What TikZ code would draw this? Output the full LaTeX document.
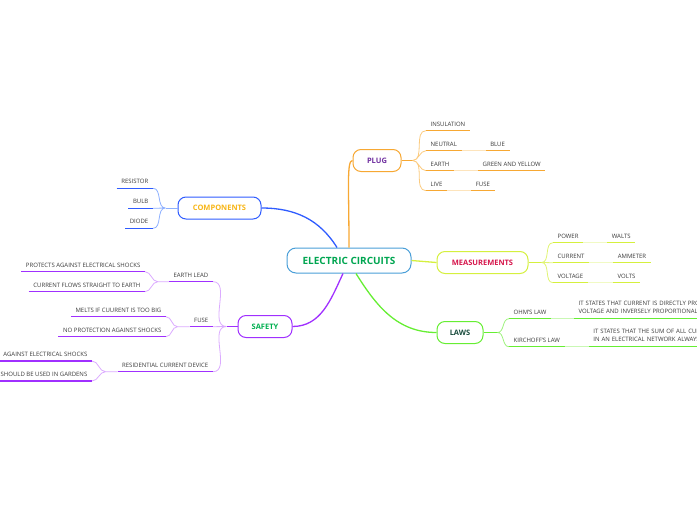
\documentclass[tikz,border=0pt]{standalone}
\usepackage{fontspec}
\setmainfont{Open Sans}
\usepackage{tikz}
\usetikzlibrary{positioning}

\definecolor{rootblue}{HTML}{4A9FD8}
\definecolor{rootgreen}{HTML}{00A651}
\definecolor{leafgray}{HTML}{3A3A3A}
\definecolor{compblue}{HTML}{2F5CFF}
\definecolor{complight}{HTML}{8DB0FF}
\definecolor{compamber}{HTML}{F7B516}
\definecolor{plugorange}{HTML}{F7A833}
\definecolor{pluglight}{HTML}{FDE4BC}
\definecolor{plugbranch}{HTML}{FBCB80}
\definecolor{plugpurple}{HTML}{7030A0}
\definecolor{measlime}{HTML}{D5F03E}
\definecolor{measlight}{HTML}{F1FAC4}
\definecolor{measbranch}{HTML}{E0F472}
\definecolor{meascrimson}{HTML}{D6154B}
\definecolor{lawgreen}{HTML}{66EE33}
\definecolor{lawlight}{HTML}{C9F8B4}
\definecolor{lawbranch}{HTML}{9DF27C}
\definecolor{lawdark}{HTML}{1B4D3E}
\definecolor{safepurple}{HTML}{A030FF}
\definecolor{safelight}{HTML}{DBABFF}
\definecolor{safegreen}{HTML}{00B050}

\begin{document}
\begin{tikzpicture}[
		x=1pt, y=-1pt
		,every node/.append style={font=\fontsize{6}{8.7}\selectfont, text=leafgray}
		,root/.style={draw=rootblue, line width=1pt, rounded corners=9pt, fill=white, minimum height=25pt, text=rootgreen, font=\fontsize{10}{12}\selectfont\bfseries}
		,topic/.style={draw=#1, line width=1pt, rounded corners=8pt, fill=white, minimum height=22pt, font=\fontsize{7.5}{9}\selectfont\bfseries}
		,leaf/.style={inner xsep=4.5pt, inner ysep=4.5pt, text height=4.3pt, text depth=0pt}
		,desc/.style={inner xsep=4.5pt, inner ysep=4.5pt, align=left, text width=200pt, anchor=south west}
		,trunk/.style={draw=#1, line width=1.3pt}
		,twig/.style={draw=#1, line width=0.8pt}
		,ul/.style={draw=#1, line width=1.5pt}
	]
	\useasboundingbox (0,0) rectangle (697,520);
	\clip (0,0) rectangle (697,520);

	% centre and main topics
	\node [root, minimum width=124pt] (ec) at (349,260.5) {ELECTRIC CIRCUITS};
	\node [topic=compblue, text=compamber, minimum width=83pt] (comp) at (219.5,208) {COMPONENTS};
	\node [topic=plugorange, text=plugpurple, minimum width=48pt] (plug) at (377,160.5) {PLUG};
	\node [topic=measlime, text=meascrimson, minimum width=91pt] (meas) at (482.5,262.5) {MEASUREMENTS};
	\node [topic=lawgreen, text=lawdark, minimum width=46pt] (laws) at (460,332.5) {LAWS};
	\node [topic=safepurple, text=safegreen, minimum width=54pt] (safety) at (265,326.5) {SAFETY};

	\draw [trunk=compblue] ([xshift=-12pt]ec.north) to[out=122, in=0] (comp.east);
	\draw [trunk=plugorange] (ec.north) .. controls +(0,-60) and +(-6,0) .. (plug.west);
	\draw [trunk=measlime] (ec.east) -- (meas.west);
	\draw [trunk=lawgreen] ([xshift=7pt]ec.south) to[out=-58, in=180] (laws.west);
	\draw [trunk=safepurple] ([xshift=-6pt]ec.south) to[out=-115, in=0] (safety.east);

	% components
	\node [leaf, anchor=south east] (resistor) at (153,188.3) {RESISTOR};
	\node [leaf, anchor=south east] (bulb) at (153,208.3) {BULB};
	\node [leaf, anchor=south east] (diode) at (153,228.3) {DIODE};
	\draw [twig=complight] (comp.west) -- ++(-12,0) coordinate (compj);
	\draw [twig=complight] (compj) to[out=180, in=0] (resistor.south east)
		(compj) -- (bulb.south east)
		(compj) to[out=180, in=0] (diode.south east);
	\draw [ul=compblue] (resistor.south west) -- (resistor.south east)
		(bulb.south west) -- (bulb.south east)
		(diode.south west) -- (diode.south east);

	% plug
	\node [leaf, anchor=south west] (insul) at (426,130.7) {INSULATION};
	\node [leaf, anchor=south west] (neutral) at (426,150.7) {NEUTRAL};
	\node [leaf, right=24pt of neutral] (blue) {BLUE};
	\node [leaf, anchor=south west] (earth) at (426,170.7) {EARTH};
	\node [leaf, right=24pt of earth] (gy) {GREEN AND YELLOW};
	\node [leaf, anchor=south west] (live) at (426,190.7) {LIVE};
	\node [leaf, right=24pt of live] (plugfuse) {FUSE};
	\draw [twig=plugorange] (plug.east) -- ++(11,0) coordinate (plugj);
	\draw [twig=plugbranch] (plugj) to[out=0, in=180] (insul.south west)
		(plugj) to[out=0, in=180] (neutral.south west)
		(plugj) to[out=0, in=180] (earth.south west)
		(plugj) to[out=0, in=180] (live.south west);
	\draw [ul=plugorange] (insul.south west) -- (insul.south east)
		(neutral.south west) -- (neutral.south east) (blue.south west) -- (blue.south east)
		(earth.south west) -- (earth.south east) (gy.south west) -- (gy.south east)
		(live.south west) -- (live.south east) (plugfuse.south west) -- (plugfuse.south east);
	\draw [ul=pluglight] (neutral.south east) -- (blue.south west)
		(earth.south east) -- (gy.south west)
		(live.south east) -- (plugfuse.south west);

	% measurements
	\node [leaf, anchor=south west] (power) at (553,242.7) {POWER};
	\node [leaf, right=24pt of power] (walts) {WALTS};
	\node [leaf, anchor=south west] (current) at (553,262.7) {CURRENT};
	\node [leaf, right=24pt of current] (ammeter) {AMMETER};
	\node [leaf, anchor=south west] (voltage) at (553,282.7) {VOLTAGE};
	\node [leaf, right=25pt of voltage] (volts) {VOLTS};
	\draw [twig=measlime] (meas.east) -- ++(13,0) coordinate (measj);
	\draw [twig=measbranch] (measj) to[out=0, in=180] (power.south west)
		(measj) to[out=0, in=180] (current.south west)
		(measj) to[out=0, in=180] (voltage.south west);
	\draw [ul=measlime] (power.south west) -- (power.south east) (walts.south west) -- (walts.south east)
		(current.south west) -- (current.south east) (ammeter.south west) -- (ammeter.south east)
		(voltage.south west) -- (voltage.south east) (volts.south west) -- (volts.south east);
	\draw [ul=measlight] (power.south east) -- (walts.south west)
		(current.south east) -- (ammeter.south west)
		(voltage.south east) -- (volts.south west);

	% laws
	\node [leaf, anchor=south west] (ohm) at (509,318.7) {OHM'S LAW};
	\node [desc] (ohmtext) at ([xshift=23pt]ohm.south east) {IT STATES THAT CURRENT IS DIRECTLY PROPORTIONAL\\VOLTAGE AND INVERSELY PROPORTIONAL};
	\node [leaf, anchor=south west] (kirch) at (509,346.7) {KIRCHOFF'S LAW};
	\node [desc] (kirchtext) at ([xshift=24pt]kirch.south east) {IT STATES THAT THE SUM OF ALL CURRENTS\\IN AN ELECTRICAL NETWORK ALWAYS};
	\draw [twig=lawgreen] (laws.east) -- ++(14,0) coordinate (lawsj);
	\draw [twig=lawbranch] (lawsj) to[out=0, in=180] (ohm.south west)
		(lawsj) to[out=0, in=180] (kirch.south west);
	\draw [ul=lawgreen] (ohm.south west) -- (ohm.south east) (ohmtext.south west) -- (ohmtext.south east)
		(kirch.south west) -- (kirch.south east) (kirchtext.south west) -- (kirchtext.south east);
	\draw [ul=lawlight] (ohm.south east) -- (ohmtext.south west)
		(kirch.south east) -- (kirchtext.south west);

	% safety
	\node [leaf, anchor=south east] (elead) at (213,281.7) {EARTH LEAD};
	\node [leaf, anchor=south east] (fuse) at (213,326.7) {FUSE};
	\node [leaf, anchor=south east] (rcd) at (213,371.7) {RESIDENTIAL CURRENT DEVICE};
	\node [leaf, anchor=south east] (protect) at (145,271.7) {PROTECTS AGAINST ELECTRICAL SHOCKS};
	\node [leaf, anchor=south east] (flows) at (145,291.7) {CURRENT FLOWS STRAIGHT TO EARTH};
	\node [leaf, anchor=south east] (melts) at (166,316.7) {MELTS IF CUURENT IS TOO BIG};
	\node [leaf, anchor=south east] (noprot) at (166,336.7) {NO PROTECTION AGAINST SHOCKS};
	\node [leaf, anchor=south east] (rcdprot) at (92,361) {AGAINST ELECTRICAL SHOCKS};
	\node [leaf, anchor=south east] (garden) at (92,381) {SHOULD BE USED IN GARDENS};
	\draw [twig=safepurple] (safety.west) -- ++(-11,0) coordinate (safej);
	\draw [twig=safelight] (safej) to[out=180, in=0] (elead.south east)
		(safej) -- (fuse.south east)
		(safej) to[out=180, in=0] (rcd.south east);
	\draw [twig=safelight] (elead.south west) -- ++(-11,0) coordinate (eleadj)
		(eleadj) to[out=180, in=0] (protect.south east)
		(eleadj) to[out=180, in=0] (flows.south east);
	\draw [twig=safelight] (fuse.south west) -- ++(-12,0) coordinate (fusej)
		(fusej) to[out=180, in=0] (melts.south east)
		(fusej) to[out=180, in=0] (noprot.south east);
	\draw [twig=safelight] (rcd.south west) -- ++(-12,0) coordinate (rcdj)
		(rcdj) to[out=180, in=0] (rcdprot.south east)
		(rcdj) to[out=180, in=0] (garden.south east);
	\draw [ul=safepurple] (elead.south west) -- (elead.south east)
		(fuse.south west) -- (fuse.south east)
		(rcd.south west) -- (rcd.south east)
		(protect.south west) -- (protect.south east)
		(flows.south west) -- (flows.south east)
		(melts.south west) -- (melts.south east)
		(noprot.south west) -- (noprot.south east)
		(rcdprot.south west) -- (rcdprot.south east)
		(garden.south west) -- (garden.south east);
\end{tikzpicture}
\end{document}
